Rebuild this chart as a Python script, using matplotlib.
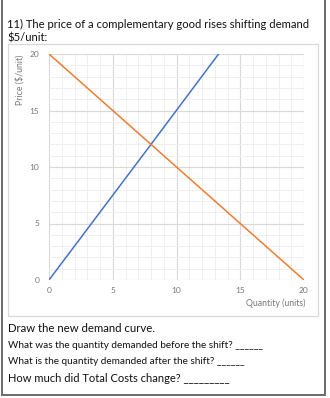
import matplotlib.pyplot as plt
from matplotlib.patches import Rectangle
from matplotlib.lines import Line2D
from matplotlib.ticker import MultipleLocator

# data
supply_q = [0, 8, 13.3]
supply_p = [0, 12, 20]
demand_q = [0, 8, 20]
demand_p = [20, 12, 0]
ticks = [0, 5, 10, 15, 20]

title_lines = ["11) The price of a complementary good rises shifting demand", "$5/unit:"]
title_y = [24, 38]
questions = [
    ("Draw the new demand curve.", 8.2),
    ("What was the quantity demanded before the shift? ______", 7.2),
    ("What is the quantity demanded after the shift? ______", 7.2),
    ("How much did Total Costs change? _________", 8.0),
]
question_y = [328, 345, 361, 378]

W, H = 330, 398
plt.rcParams['font.family'] = ['Lato', 'DejaVu Sans']
fig = plt.figure(figsize=(W / 100, H / 100), dpi=100)


def fx(px):
    return px / W


def fy(py):
    return 1 - py / H


# page border (left, right, bottom)
for xs, ys in [([1.5, 1.5], [0, 395]), ([325, 325], [0, 395]), ([1.5, 325], [395, 395])]:
    fig.add_artist(Line2D([fx(x) for x in xs], [fy(y) for y in ys],
                          color="#6b6b6b", lw=1.4, transform=fig.transFigure))

# chart frame
fig.add_artist(Rectangle((fx(7.5), fy(316)), fx(318) - fx(7.5), fy(44) - fy(316),
                         transform=fig.transFigure, fill=False, ec="#d9d9d9", lw=0.9))

for txt, y in zip(title_lines, title_y):
    fig.text(fx(7), fy(y), txt, ha="left", va="center", fontsize=8.1, color="#111111")

for (txt, fs), y in zip(questions, question_y):
    fig.text(fx(8), fy(y), txt, ha="left", va="center", fontsize=fs, color="#111111")

ax = fig.add_axes([fx(49), fy(280), fx(304) - fx(49), fy(54) - fy(280)])
ax.plot(supply_q, supply_p, color="#4472C4", lw=1.1, zorder=3)
ax.plot(demand_q, demand_p, color="#ED7D31", lw=1.1, zorder=3)

ax.set_xlim(0, 20)
ax.set_ylim(0, 20)
ax.set_xticks(ticks)
ax.set_yticks(ticks)
ax.xaxis.set_minor_locator(MultipleLocator(1))
ax.yaxis.set_minor_locator(MultipleLocator(1))
ax.grid(which="major", color="#d9d9d9", lw=0.8)
ax.grid(which="minor", color="#efefef", lw=0.7)
ax.set_axisbelow(True)
for s in ax.spines.values():
    s.set_visible(False)
ax.tick_params(which="both", length=0, labelsize=6, labelcolor="#777777")
ax.tick_params(axis="x", pad=5)
ax.tick_params(axis="y", pad=7)

fig.text(fx(20), fy(80), "Price ($/unit)", rotation=90, ha="center", va="center",
         fontsize=6.3, color="#777777")
fig.text(fx(305), fy(303), "Quantity (units)", ha="right", va="center",
         fontsize=6.3, color="#777777")

fig.savefig("out.png", dpi=100)
